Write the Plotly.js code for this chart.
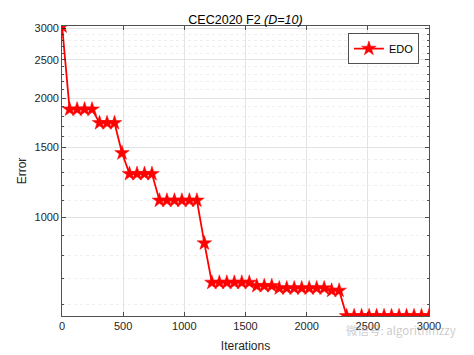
<!DOCTYPE html>
<html>
<head>
<meta charset="utf-8">
<script src="https://cdn.plot.ly/plotly-3.0.1.min.js"></script>
<style>html,body{margin:0;padding:0;background:#fff;}#chart{width:474px;height:355px;}</style>
</head>
<body>
<div id="chart"></div>
<script>
// Sample index (50 samples between 1 and 3000)
const sampleCount = 50;
const firstIter = 1;
const lastIter = 3000;
// Error values, one per sample
const errorValues = [
  3040,
  1874, 1874, 1874, 1874,
  1731, 1731, 1731,
  1453,
  1287, 1287, 1287, 1287,
  1102, 1102, 1102, 1102, 1102, 1102,
  859,
  683, 683, 683, 683, 683, 683,
  670, 670, 670,
  661, 661, 661, 661, 661, 661, 661,
  652, 652,
  562, 562, 562, 562, 562, 562, 562, 562, 562, 562, 562, 562
];
const xTickVals = [0, 500, 1000, 1500, 2000, 2500, 3000];
const yTickVals = [1000, 1500, 2000, 2500, 3000];
const yMinorVals = [600,700,800,900,1100,1200,1300,1400,1600,1700,1800,1900,2100,2200,2300,2400,2600,2700,2800,2900];

const iterations = [];
for (let i = 0; i < sampleCount; i++) {
  iterations.push(firstIter + (lastIter - firstIter) * i / (sampleCount - 1));
}

const axisColor = '#262626';
const fontFam = 'Liberation Sans, Arial, sans-serif';

const trace = {
  x: iterations,
  y: errorValues,
  type: 'scatter',
  mode: 'lines+markers',
  name: 'EDO',
  line: {color: '#ff0000', width: 1.8},
  marker: {symbol: 'star', size: 11, color: '#ff0000', line: {color: '#ff0000', width: 0.5}}
};

const layout = {
  width: 474, height: 355,
  margin: {l: 62, r: 45, t: 26, b: 39},
  paper_bgcolor: '#ffffff',
  plot_bgcolor: '#ffffff',
  font: {family: fontFam, size: 11, color: axisColor},
  title: {
    text: 'CEC2020 F2 <i>(D=10)</i>',
    font: {family: fontFam, size: 12.5, color: '#000'},
    x: 0.5, xanchor: 'center', xref: 'paper',
    y: 1, yref: 'paper', yanchor: 'bottom', pad: {b: 2}
  },
  showlegend: true,
  legend: {
    x: 0.973, xanchor: 'right', y: 0.975, yanchor: 'top',
    bgcolor: '#ffffff', bordercolor: '#262626', borderwidth: 0.8,
    font: {family: fontFam, size: 11, color: '#000'},
    itemwidth: 30, tracegroupgap: 0
  },
  xaxis: {
    range: [0, 3000],
    tickvals: xTickVals,
    ticktext: xTickVals.map(String),
    ticks: 'inside', ticklen: 4, tickcolor: axisColor, tickwidth: 0.8,
    showline: true, linecolor: axisColor, linewidth: 0.8, mirror: 'ticks',
    showgrid: true, gridcolor: '#e3e3e3', gridwidth: 1,
    zeroline: false,
    tickfont: {family: fontFam, size: 11, color: axisColor},
    title: {text: 'Iterations', font: {family: fontFam, size: 12, color: axisColor}, standoff: 10}
  },
  yaxis: {
    type: 'log',
    range: [Math.log10(562), Math.log10(3045)],
    tickmode: 'array',
    tickvals: yTickVals,
    ticktext: yTickVals.map(String),
    ticks: 'inside', ticklen: 4, tickcolor: axisColor, tickwidth: 0.8,
    showline: true, linecolor: axisColor, linewidth: 0.8, mirror: 'ticks',
    showgrid: true, gridcolor: '#e3e3e3', gridwidth: 1,
    zeroline: false,
    minor: {
      tickmode: 'array', tickvals: yMinorVals,
      ticks: 'inside', ticklen: 2, tickcolor: axisColor,
      showgrid: true, gridcolor: '#eeeeee', gridwidth: 1, griddash: 'dot'
    },
    tickfont: {family: fontFam, size: 11, color: axisColor},
    title: {text: 'Error', font: {family: fontFam, size: 12, color: axisColor}, standoff: 5}
  },
  annotations: [{
    text: '微信号: algorithmzzy',
    xref: 'paper', yref: 'paper', x: 1.08, y: -0.015, xanchor: 'right', yanchor: 'top',
    showarrow: false,
    font: {family: 'Noto Sans CJK SC, sans-serif', size: 11.5, color: 'rgba(150,150,150,0.5)'}
  }]
};

Plotly.newPlot('chart', [trace], layout, {displayModeBar: false, staticPlot: true});
</script>
</body>
</html>
